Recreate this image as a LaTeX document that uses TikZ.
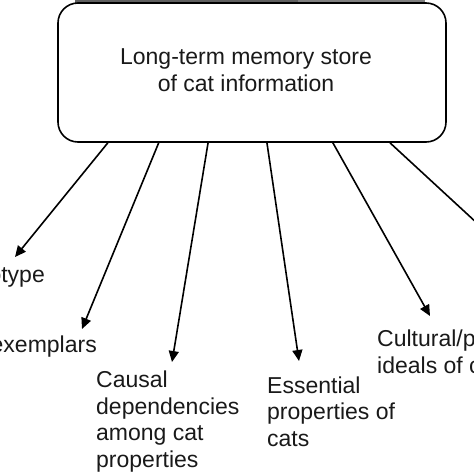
\documentclass[tikz,border=0pt]{standalone}
\usepackage{fontspec}
\setmainfont{Liberation Sans}
\usetikzlibrary{arrows.meta}

\begin{document}
\begin{tikzpicture}[x=1pt,y=-1pt,
  memorybox/.style={draw, line width=1.6pt, rounded corners=20pt, minimum width=388pt, minimum height=139pt},
  infotext/.style={inner sep=0pt, align=left, text=black!90, font=\fontsize{23}{26.5}\selectfont},
  arr/.style={-{Triangle[length=11pt,width=10pt]}, line width=1.6pt}]

% frame
\useasboundingbox (0,0) rectangle (474,474);
\clip (0,0) rectangle (474,474);

% strip cut off at the top edge
\fill[gray!75!black] (75,0) rectangle (298,3);
\fill[gray] (298,0) rectangle (425,2.5);

% memory store
\node[memorybox] (store) at (252,72.5) {};
\node[infotext, align=center] (storetext) at (246,70) {Long-term memory store\\of cat information};

% kinds of cat information
\node[infotext, anchor=base east] (proto) at (45,282) {Prototype};
\node[infotext, anchor=base east] (exemplars) at (97,352) {exemplars};
\node[infotext, anchor=north west] (causal) at (96,371) {Causal\\dependencies\\among cat\\properties};
\node[infotext, anchor=north west] (essential) at (267,376.5) {Essential\\properties of\\cats};
\node[infotext, anchor=north west] (ideals) at (377,330) {Cultural/personal\\ideals of cats};

% arrow tips
\coordinate (protoTip) at (15,257);
\coordinate (exemplarsTip) at (82,329);
\coordinate (causalTip) at (172,362);
\coordinate (essentialTip) at (299,361);
\coordinate (idealsTip) at (430,316);
\coordinate (offTip) at (530,272);

% arrows out of the store
\draw[arr] (store.-154.2) -- (protoTip);
\draw[arr] (store.-143.8) -- (exemplarsTip);
\draw[arr] (store.-122.3) -- (causalTip);
\draw[arr] (store.-78.6) -- (essentialTip);
\draw[arr] (store.-41) -- (idealsTip);
\draw[arr] (store.-27.1) -- (offTip);

\end{tikzpicture}
\end{document}
